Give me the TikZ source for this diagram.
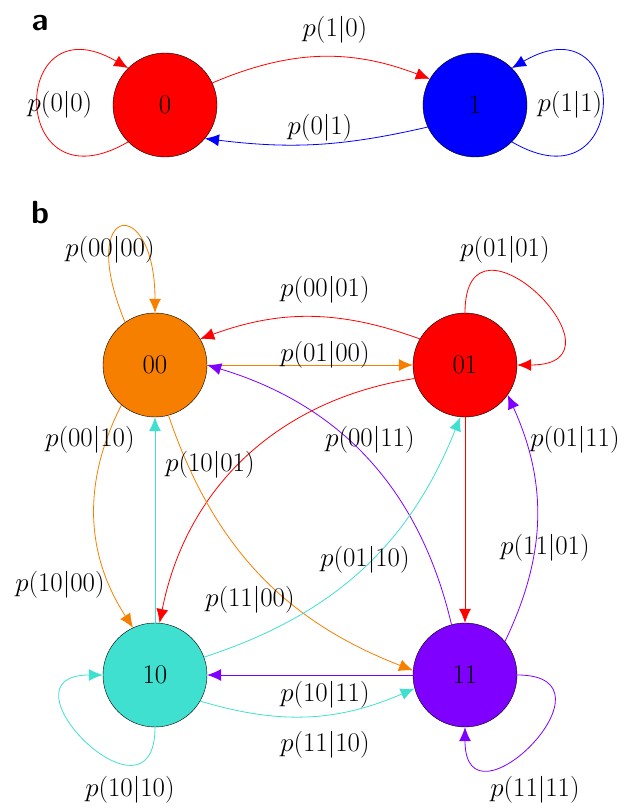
\documentclass[tikz,border=0pt]{standalone}
\usepackage{amsmath}
\usepackage{graphicx}
\usepackage{tikz}
\usetikzlibrary{positioning,arrows.meta}
\definecolor{cred}{HTML}{FF0000}
\definecolor{cblue}{HTML}{0000FF}
\definecolor{corange}{HTML}{F77F00}
\definecolor{cteal}{HTML}{40E0D0}
\definecolor{cpurple}{HTML}{7F00FF}
\newcommand{\plab}[1]{\scalebox{1.3}{$#1$}}
\tikzset{
  state/.style={circle, draw=black, thin, minimum size=104pt, inner sep=0pt},
  lab/.style={inner sep=0pt},
  tr/.style={line width=0.8pt, -{Latex[length=14pt,width=12pt]}},
  panel/.style={font=\sffamily\bfseries\fontsize{32}{38}\selectfont}
}
\begin{document}
\begin{tikzpicture}[x=1pt, y=1pt, every node/.append style={font=\huge}]
\useasboundingbox (0,0) rectangle (640,811);
% panel a
\node[panel] (pa) at (40,788) {a};
\node[state, fill=cred] (n0) at (165,706) {\plab{0}};
\node[state, fill=cblue] (n1) at (475,706) {\plab{1}};
\draw[tr, cred] (n0.-135) .. controls +(-120,-70) and +(-120,70) .. (n0.135);
\draw[tr, cblue] (n1.-45) .. controls +(120,-70) and +(120,70) .. (n1.45);
\draw[tr, cred] (n0.25) to[bend left=22] (n1.150);
\draw[tr, cblue] (n1.205) to[bend left=10] (n0.-40);
\node[lab] (l00) at (60,706) {\plab{p(0|0)}};
\node[lab] (l10) at (335,781) {\plab{p(1|0)}};
\node[lab] (l01) at (320,683) {\plab{p(0|1)}};
\node[lab] (l11) at (570,706) {\plab{p(1|1)}};
% panel b
\node[panel] (pb) at (40,598) {b};
\node[state, fill=corange] (n00) at (155,446) {\plab{00}};
\node[state, fill=cred] (n01) at (465,446) {\plab{01}};
\node[state, fill=cteal] (n10) at (155,136) {\plab{10}};
\node[state, fill=cpurple] (n11) at (465,136) {\plab{11}};
% loops
\draw[tr, corange] (n00.125) .. controls +(-50,120) and +(0,120) .. (n00.north);
\draw[tr, cred] (n01.north) .. controls +(0,120) and +(120,0) .. (n01.east);
\draw[tr, cteal] (n10.south) .. controls +(0,-110) and +(-110,0) .. (n10.west);
\draw[tr, cpurple] (n11.east) .. controls +(110,0) and +(0,-110) .. (n11.south);
% transitions
\draw[tr, cred] (n01.150) to[bend right=20] (n00.30);
\draw[tr, corange] (n00.east) -- (n01.west);
\draw[tr, cpurple] (n11.105) to[bend right=30] (n00.east);
\draw[tr, cred] (n01.195) to[bend right=35] (n10.85);
\draw[tr, corange] (n00.230) to[bend right=30] (n10.115);
\draw[tr, cteal] (n10.north) -- (n00.south);
\draw[tr, corange] (n00.-75) to[bend right=25] (n11.175);
\draw[tr, cteal] (n10.20) to[bend right=25] (n01.-95);
\draw[tr, cred] (n01.south) -- (n11.north);
\draw[tr, cpurple] (n11.40) to[bend right=25] (n01.-35);
\draw[tr, cpurple] (n11.west) -- (n10.east);
\draw[tr, cteal] (n10.-30) to[bend right=20] (n11.195);
% labels
\node[lab] (l0000) at (110,561) {\plab{p(00|00)}};
\node[lab] (l0101) at (505,561) {\plab{p(01|01)}};
\node[lab] (l0001) at (325,521) {\plab{p(00|01)}};
\node[lab] (l0100) at (325,456) {\plab{p(01|00)}};
\node[lab] (l0011) at (370,371) {\plab{p(00|11)}};
\node[lab] (l1001) at (210,346) {\plab{p(10|01)}};
\node[lab] (l0010) at (90,371) {\plab{p(00|10)}};
\node[lab] (l1000) at (60,226) {\plab{p(10|00)}};
\node[lab] (l1100) at (250,211) {\plab{p(11|00)}};
\node[lab] (l0110) at (365,251) {\plab{p(01|10)}};
\node[lab] (l1101) at (545,263) {\plab{p(11|01)}};
\node[lab] (l0111) at (575,371) {\plab{p(01|11)}};
\node[lab] (l1011) at (325,116) {\plab{p(10|11)}};
\node[lab] (l1110) at (325,66) {\plab{p(11|10)}};
\node[lab] (l1010) at (130,21) {\plab{p(10|10)}};
\node[lab] (l1111) at (535,21) {\plab{p(11|11)}};
\end{tikzpicture}
\end{document}
